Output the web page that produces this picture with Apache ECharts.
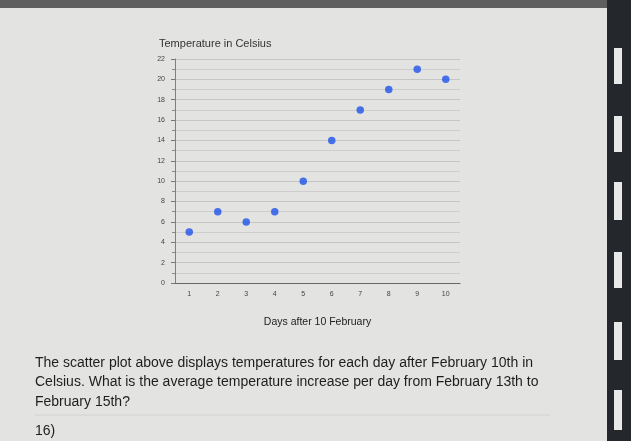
<!DOCTYPE html>
<html>
<head>
<meta charset="utf-8">
<script src="https://cdn.jsdelivr.net/npm/echarts@6/dist/echarts.min.js"></script>
<style>
  html, body { margin: 0; padding: 0; background: #e3e3e1; }
  #main { width: 631px; height: 441px; }
</style>
</head>
<body>
<div id="main"></div>
<script>
// 数据
var days = ['1', '2', '3', '4', '5', '6', '7', '8', '9', '10'];
var temps = [5, 7, 6, 7, 10, 14, 17, 19, 21, 20];
var questionLines = [
    'The scatter plot above displays temperatures for each day after February 10th in',
    'Celsius. What is the average temperature increase per day from February 13th to',
    'February 15th?'
];

var myChart = echarts.init(document.getElementById('main'));

var textEls = questionLines.map(function (t, i) {
    return {
        type: 'text', left: 35, top: 356 + i * 19.5,
        style: { text: t, fill: '#1e1e1e', font: '14px "Liberation Sans", Arial, sans-serif' }
    };
});

var option = {
    backgroundColor: '#e3e3e1',
    title: {
        text: 'Temperature in Celsius',
        left: 154, top: 33,
        textStyle: { fontSize: 11, fontWeight: 'normal', color: '#333', fontFamily: 'Liberation Sans, Arial' }
    },
    grid: { left: 175, right: 171, top: 59, bottom: 158 },
    xAxis: {
        type: 'category',
        data: days,
        name: 'Days after 10 February',
        nameLocation: 'middle',
        nameGap: 34,
        nameTextStyle: { fontSize: 10.5, color: '#222', fontFamily: 'Liberation Sans, Arial' },
        axisLine: { lineStyle: { color: '#666' } },
        axisTick: { show: false },
        axisLabel: { fontSize: 7, color: '#444', margin: 8 }
    },
    yAxis: {
        type: 'value',
        min: 0, max: 22, interval: 2,
        axisLine: { show: true, lineStyle: { color: '#a07080' } },
        axisTick: { show: true, length: 4, inside: false, lineStyle: { color: '#777' } },
        minorTick: { show: true, splitNumber: 2, length: 3, lineStyle: { color: '#888' } },
        splitLine: { lineStyle: { color: '#c6c6c6' } },
        minorSplitLine: { show: true, lineStyle: { color: '#cdcdcd' } },
        axisLabel: { fontSize: 7, color: '#444', margin: 10 }
    },
    graphic: [
        { type: 'rect', shape: { x: 0, y: 0, width: 631, height: 8 }, style: { fill: '#5f5f5f' } },
        { type: 'rect', shape: { x: 607, y: 0, width: 24, height: 441 }, style: { fill: '#24272c' } },
        { type: 'rect', shape: { x: 614, y: 48, width: 8, height: 36 }, style: { fill: '#e8e8e8' } },
        { type: 'rect', shape: { x: 614, y: 116, width: 8, height: 36 }, style: { fill: '#e8e8e8' } },
        { type: 'rect', shape: { x: 614, y: 182, width: 8, height: 38 }, style: { fill: '#e8e8e8' } },
        { type: 'rect', shape: { x: 614, y: 252, width: 8, height: 36 }, style: { fill: '#e8e8e8' } },
        { type: 'rect', shape: { x: 614, y: 322, width: 8, height: 38 }, style: { fill: '#e8e8e8' } },
        { type: 'rect', shape: { x: 614, y: 390, width: 8, height: 40 }, style: { fill: '#e8e8e8' } },
        { type: 'line', shape: { x1: 35, y1: 415, x2: 550, y2: 415 }, style: { stroke: '#d2d2d2', lineWidth: 1 } },
        { type: 'text', left: 35, top: 424, style: { text: '16)', fill: '#1e1e1e', font: '14px "Liberation Sans", Arial, sans-serif' } }
    ].concat(textEls),
    series: [{
        type: 'scatter',
        data: temps,
        symbolSize: 7.5,
        itemStyle: { color: '#1d52ea' }
    }]
};

myChart.setOption(option);
</script>
</body>
</html>
